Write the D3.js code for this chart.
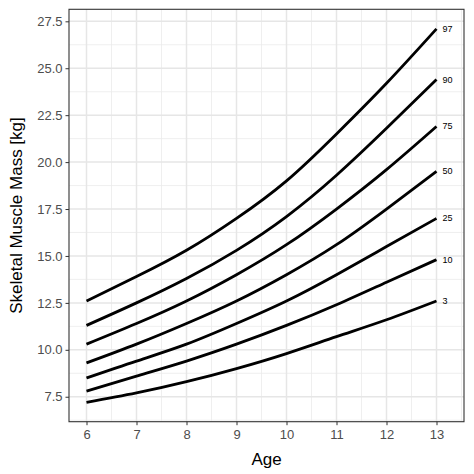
<!DOCTYPE html>
<html><head><meta charset="utf-8">
<script src="https://cdn.jsdelivr.net/npm/d3@7"></script>
<style>body{margin:0;background:#fff}text{font-family:"Liberation Sans",Arial,sans-serif}</style>
</head><body><svg id="c" width="474" height="474"></svg>
<script>
const ages = [6, 7, 8, 9, 10, 11, 12, 13];
const percentiles = ["97", "90", "75", "50", "25", "10", "3"];
const p97 = [12.6, 13.9, 15.3, 17.0, 19.0, 21.5, 24.2, 27.1];
const p90 = [11.3, 12.5, 13.8, 15.3, 17.1, 19.3, 21.8, 24.4];
const p75 = [10.3, 11.4, 12.6, 14.0, 15.6, 17.5, 19.6, 21.9];
const p50 = [9.3, 10.3, 11.4, 12.6, 14.0, 15.6, 17.5, 19.5];
const p25 = [8.5, 9.4, 10.3, 11.4, 12.6, 14.0, 15.5, 17.0];
const p10 = [7.8, 8.6, 9.4, 10.3, 11.3, 12.4, 13.6, 14.8];
const p3 = [7.2, 7.7, 8.3, 9.0, 9.8, 10.7, 11.6, 12.6];
const series = [p97, p90, p75, p50, p25, p10, p3];
const yTicks = [7.5, 10, 12.5, 15, 17.5, 20, 22.5, 25, 27.5];

const svg = d3.select("#c");
const L = 69, R = 464, T = 9.3, B = 421.7;
const x = d3.scaleLinear().domain([5.65, 13.55]).range([L, R]);
const y = d3.scaleLinear().domain([6.17, 28.14]).range([B, T]);

// grid
const g = svg.append("g");
d3.range(5.5, 14, 0.5).filter(v => v % 1 !== 0 && v > 5.65 && v < 13.55).forEach(v =>
  g.append("line").attr("x1", x(v)).attr("x2", x(v)).attr("y1", T).attr("y2", B).attr("stroke", "#ebebeb").attr("stroke-width", 0.8));
d3.range(6.25, 28.1, 2.5).forEach(v =>
  g.append("line").attr("x1", L).attr("x2", R).attr("y1", y(v)).attr("y2", y(v)).attr("stroke", "#ebebeb").attr("stroke-width", 0.8));
ages.forEach(v =>
  g.append("line").attr("x1", x(v)).attr("x2", x(v)).attr("y1", T).attr("y2", B).attr("stroke", "#e6e6e6").attr("stroke-width", 1.5));
yTicks.forEach(v =>
  g.append("line").attr("x1", L).attr("x2", R).attr("y1", y(v)).attr("y2", y(v)).attr("stroke", "#e6e6e6").attr("stroke-width", 1.5));

const line = d3.line().x((d, i) => x(ages[i])).y(d => y(d)).curve(d3.curveNatural);
series.forEach((s, k) => {
  svg.append("path").attr("d", line(s)).attr("fill", "none").attr("stroke", "#000").attr("stroke-width", 2.8);
  svg.append("text").attr("x", x(13) + 6).attr("y", y(s[7]) + 3).attr("font-size", 9).text(percentiles[k]);
});

svg.append("rect").attr("x", L).attr("y", T).attr("width", R - L).attr("height", B - T)
  .attr("fill", "none").attr("stroke", "#333").attr("stroke-width", 1.1);

const xa = svg.append("g").attr("transform", `translate(0,${B})`)
  .call(d3.axisBottom(x).tickValues(ages).tickSize(3.5).tickPadding(3));
const ya = svg.append("g").attr("transform", `translate(${L},0)`)
  .call(d3.axisLeft(y).tickValues(yTicks).tickFormat(d3.format(".1f")).tickSize(3.5).tickPadding(3));
[xa, ya].forEach(a => {
  a.select(".domain").remove();
  a.selectAll("line").attr("stroke", "#333");
  a.selectAll("text").attr("fill", "#4d4d4d").attr("font-size", 13);
});
xa.selectAll("text").attr("dy", "0.85em");

svg.append("text").attr("x", (L + R) / 2).attr("y", 465).attr("text-anchor", "middle").attr("font-size", 17).text("Age");
svg.append("text").attr("transform", `translate(22,${(T + B) / 2}) rotate(-90)`).attr("text-anchor", "middle")
  .attr("font-size", 17).text("Skeletal Muscle Mass [kg]");
</script></body></html>
